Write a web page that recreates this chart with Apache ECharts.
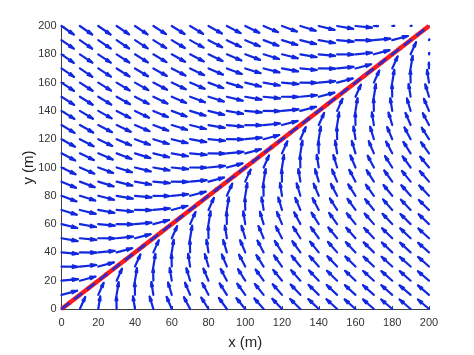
<!DOCTYPE html>
<html>
<head>
<meta charset="utf-8">
<script src="https://cdn.jsdelivr.net/npm/echarts@6/dist/echarts.min.js"></script>
<style>
html,body{margin:0;padding:0;background:#fff;}
#chart{width:474px;height:355px;}
</style>
</head>
<body>
<div id="chart"></div>
<script>
// ---- data ----
const xTicks = [0, 20, 40, 60, 80, 100, 120, 140, 160, 180, 200];
const yTicks = [0, 20, 40, 60, 80, 100, 120, 140, 160, 180, 200];
// arrow grid positions (m)
const gridX = [0,10,20,30,40,50,60,70,80,90,100,110,120,130,140,150,160,170,180,190,200];
const gridY = [0,10,20,30,40,50,60,70,80,90,100,110,120,130,140,150,160,170,180,190,200];
// turn of the arrow away from the path direction (deg, toward the path),
// indexed by how many grid rows the arrow sits above/below the line y = x
const devByOffset = [0, 26, 38, 46, 52, 58, 63, 67, 71, 74, 77, 79, 81, 83, 84, 85, 86, 86, 87, 87, 87];
// arrows that are shortened near the end point of the path: [x, y, relative length]
const shortArrows = [
  [170, 200, 0.25], [180, 200, 0.12], [190, 200, 0.06], [200, 200, 0.02],
  [200, 190, 0.06], [200, 180, 0.12], [200, 170, 0.45], [190, 190, 0.5]
];
// reference path
const pathX = [0, 200];
const pathY = [0, 200];

const ARROW_LEN = 9; // data units

function lengthAt(x, y) {
  for (const s of shortArrows) if (s[0] === x && s[1] === y) return s[2];
  return 1;
}

const arrows = [];
gridY.forEach((y, j) => {
  gridX.forEach((x, i) => {
    const off = j - i;
    const dev = devByOffset[Math.abs(off)];
    const theta = (45 - Math.sign(off) * dev) * Math.PI / 180;
    const L = ARROW_LEN * lengthAt(x, y);
    arrows.push([x, y, L * Math.cos(theta), L * Math.sin(theta)]);
  });
});

const pathData = pathX.map((x, k) => [x, pathY[k]]);

const FONT = 'Liberation Sans, Arial, Helvetica, sans-serif';
const AXIS_COLOR = '#404040';
const ARROW_COLOR = '#1228e0';

const chart = echarts.init(document.getElementById('chart'), null, {renderer: 'canvas'});

chart.setOption({
  animation: false,
  backgroundColor: '#ffffff',
  grid: {left: 61.5, top: 26, width: 367.5, height: 286.7, containLabel: false},
  xAxis: {
    type: 'value', min: 0, max: 200, interval: 20,
    name: 'x (m)', nameLocation: 'middle', nameGap: 26, nameMoveOverlap: false,
    nameTextStyle: {fontFamily: FONT, fontSize: 15, color: '#262626'},
    axisLine: {show: true, lineStyle: {color: AXIS_COLOR, width: 1}},
    axisTick: {show: true, inside: true, length: 3, lineStyle: {color: AXIS_COLOR}},
    axisLabel: {fontFamily: FONT, fontSize: 11, color: '#333', margin: 8,
      formatter: v => xTicks.includes(v) ? String(v) : ''},
    splitLine: {show: false}
  },
  yAxis: {
    type: 'value', min: 0, max: 200, interval: 20,
    name: 'y (m)', nameLocation: 'middle', nameGap: 25, nameRotate: 90, nameMoveOverlap: false,
    nameTextStyle: {fontFamily: FONT, fontSize: 15, color: '#262626'},
    axisLine: {show: true, lineStyle: {color: AXIS_COLOR, width: 1}},
    axisTick: {show: true, inside: true, length: 3, lineStyle: {color: AXIS_COLOR}},
    axisLabel: {fontFamily: FONT, fontSize: 11, color: '#333', margin: 5,
      formatter: v => yTicks.includes(v) ? String(v) : ''},
    splitLine: {show: false}
  },
  series: [
    {
      type: 'custom',
      z: 2,
      data: arrows,
      renderItem: function (params, api) {
        const x = api.value(0), y = api.value(1), u = api.value(2), v = api.value(3);
        const p0 = api.coord([x, y]);
        const p1 = api.coord([x + u, y + v]);
        const dx = p1[0] - p0[0], dy = p1[1] - p0[1];
        const len = Math.sqrt(dx * dx + dy * dy);
        if (len < 0.3) {
          return {type: 'circle', shape: {cx: p0[0], cy: p0[1], r: 0.9},
            style: {fill: ARROW_COLOR}};
        }
        const a = 0.33, b = 0.28;
        const h1 = [p1[0] - a * (dx + b * dy), p1[1] - a * (dy - b * dx)];
        const h2 = [p1[0] - a * (dx - b * dy), p1[1] - a * (dy + b * dx)];
        return {
          type: 'group',
          children: [
            {type: 'polyline', shape: {points: [p0, p1]},
              style: {stroke: ARROW_COLOR, lineWidth: 2.2, fill: null, lineCap: 'round'}},
            {type: 'polygon', shape: {points: [h1, p1, h2]},
              style: {stroke: ARROW_COLOR, fill: ARROW_COLOR, lineWidth: 1.8, lineJoin: 'round'}}
          ]
        };
      }
    },
    {
      type: 'line', z: 3, data: pathData, showSymbol: false, silent: true,
      lineStyle: {color: '#ff1a1a', width: 4.5}
    },
    {
      type: 'line', z: 4, data: pathData, showSymbol: false, silent: true,
      lineStyle: {color: '#2a2ad0', width: 2.5, type: [10, 6]}
    }
  ]
});
</script>
</body>
</html>
